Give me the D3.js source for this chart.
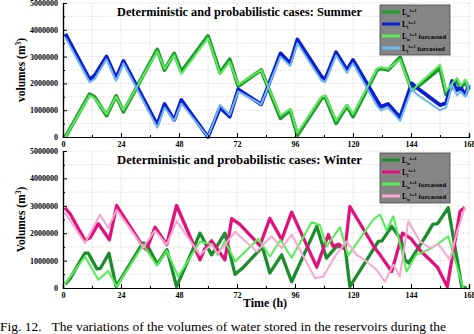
<!DOCTYPE html>
<html>
<head>
<meta charset="utf-8">
<script src="https://cdn.jsdelivr.net/npm/d3@7"></script>
<style>
  body { margin: 0; background: #fff; }
  svg { display: block; }
  text { font-family: "Liberation Serif", "Times New Roman", serif; }
</style>
</head>
<body>
<svg id="chart" width="474" height="334"></svg>
<script>

// Summer panel (values in million m3)
var sumHours = [1, 11, 13, 18, 22, 25, 39, 42, 46, 49, 60, 65, 69, 72.5, 82, 90, 94, 97, 107, 108.5, 113, 117.5, 120, 130, 131.5, 134.5, 139.5, 144.3, 146.3, 156, 158.5, 161, 163, 164.5, 166.5, 168];
var sumLu  = [0, 1.6, 1.5, 0.8, 1.53, 0.94, 3.27, 2.5, 3.12, 2.44, 3.77, 2.4, 2.9, 1.9, 2.5, 0.7, 1.0, 0.07, 1.44, 1.5, 0.51, 1.16, 0.76, 2.5, 2.56, 2.5, 2.97, 1.75, 1.85, 2.56, 1.6, 1.85, 2.13, 1.82, 2.06, 1.75];
var sumLl  = [3.85, 2.15, 2.28, 3.0, 2.19, 2.84, 0.45, 1.23, 0.63, 1.38, 0.0, 1.1, 0.76, 1.78, 1.22, 3.12, 2.75, 3.64, 2.25, 2.16, 3.16, 2.5, 2.87, 1.35, 1.13, 1.23, 0.73, 2.0, 1.85, 1.19, 1.26, 2.09, 1.75, 1.85, 1.57, 1.94];
var sumLuF = [0, 1.55, 1.45, 0.85, 1.5, 1.0, 3.2, 2.55, 3.05, 2.35, 3.7, 2.35, 2.8, 1.95, 2.5, 0.8, 1.05, 0.15, 1.5, 1.55, 0.6, 1.2, 0.85, 2.55, 2.6, 2.55, 2.9, 1.7, 1.9, 2.7, 1.7, 2.0, 2.2, 1.9, 2.15, 1.7];
var sumLlF = [3.7, 2.05, 2.15, 2.9, 2.1, 2.75, 0.35, 1.1, 0.6, 1.25, 0.0, 1.2, 0.82, 1.7, 1.22, 3.0, 2.65, 3.5, 2.1, 2.05, 3.05, 2.4, 2.75, 1.15, 1.0, 1.1, 0.6, 1.8, 1.6, 1.0, 1.1, 1.95, 1.55, 1.7, 1.5, 1.95];

// Winter panel
var winLuHours = [1, 3, 9, 10.5, 14, 15.5, 19, 22, 33, 34.5, 39, 43, 47, 56.7, 61.5, 67, 71.2, 74, 82.5, 85.6, 90.5, 94.6, 105, 109, 113, 116.7, 118.7, 127, 130.5, 132, 136, 140, 141.5, 143, 150.5, 153, 155, 159.4, 165, 167];
var winLu = [0.14, 0.35, 1.27, 1.27, 0.7, 0.72, 1.27, 0.05, 1.64, 1.62, 0.87, 1.4, 0.05, 2.0, 1.21, 2.0, 0.5, 0.7, 1.5, 0.55, 1.21, 0.23, 2.25, 1.09, 1.5, 1.52, 0.05, 1.21, 1.7, 1.72, 2.25, 1.76, 1.03, 0.91, 1.95, 2.32, 2.35, 2.93, 0.05, 0.0];
var winLlHours = [0.8, 3, 9.1, 11.2, 14.6, 19.2, 22.2, 33.2, 34.6, 38.1, 42.9, 47, 56.7, 58.5, 61.5, 67, 69.8, 73.2, 81.5, 85.6, 90.5, 94.6, 105, 109.8, 111.8, 114, 116.7, 118.7, 129, 131.2, 136, 140.5, 144, 148, 151.8, 155, 159, 164.3, 166.3];
var winLl = [2.93, 2.7, 1.74, 1.83, 2.35, 1.76, 3.01, 1.5, 1.4, 2.22, 1.58, 3.01, 1.03, 1.4, 1.72, 1.03, 2.53, 2.32, 1.55, 2.54, 1.76, 2.77, 0.76, 1.95, 1.52, 1.6, 1.42, 2.97, 1.46, 1.21, 0.6, 2.0, 1.8, 1.35, 1.03, 0.75, 0.05, 2.8, 2.94];
var winLuFHours = [0.8, 9.1, 14.6, 18.7, 22.2, 33.2, 38.8, 42.9, 47.7, 56.7, 61.5, 64, 67, 71.2, 80.8, 85.6, 90, 94.6, 102.9, 106.3, 109.1, 114.6, 118, 128.4, 131.2, 133.9, 136.7, 142.2, 146, 151.8, 155, 159.4, 165.6];
var winLuF = [0.14, 1.15, 0.3, 0.62, 0.05, 1.58, 0.82, 1.36, 0.42, 1.7, 1.6, 1.2, 1.72, 0.97, 1.8, 1.15, 1.75, 1.1, 2.4, 2.3, 1.52, 2.22, 1.18, 2.5, 2.68, 2.1, 2.62, 0.6, 1.2, 1.42, 1.6, 1.89, 0.0];
var winLlFHours = [0.8, 9.1, 15.3, 18.7, 22.2, 33.2, 38, 42.9, 47, 56.7, 61.5, 64, 71.2, 80.1, 86.3, 90.5, 94.6, 104.3, 107.7, 112.5, 117.3, 121.5, 125.6, 129.8, 133.2, 136.7, 139.4, 142.9, 147.7, 151.8, 155.3, 160.1, 162.9, 166.3];
var winLlF = [2.74, 1.64, 2.68, 2.19, 2.85, 1.48, 2.1, 1.58, 2.44, 1.21, 1.6, 1.25, 2.05, 1.33, 1.89, 1.46, 1.95, 0.36, 0.42, 1.15, 1.7, 1.21, 0.97, 0.66, 0.23, 0.85, 0.42, 2.44, 1.7, 1.46, 1.6, 1.03, 2.0, 2.94];

var xTicks = [0, 24, 48, 72, 96, 120, 144, 168];
var yTicks = [0, 1, 2, 3, 4, 5];

var svg = d3.select('#chart');
var x = d3.scaleLinear().domain([0, 168]).range([63, 469]);

function zip(hours, vals) {
  return hours.map(function(h, i) { return [h, vals[i]]; });
}

function drawPanel(opts) {
  var y = d3.scaleLinear().domain([0, 5]).range([opts.bottom, opts.top]);
  var g = svg.append('g');

  // dotted grid
  g.selectAll('.hgrid').data(d3.range(0.5, 5.01, 0.5)).enter().append('line')
    .attr('x1', x(0)).attr('x2', x(168))
    .attr('y1', function(d) { return y(d); }).attr('y2', function(d) { return y(d); })
    .attr('stroke', '#c8c8c8').attr('stroke-dasharray', '1,1.5').attr('stroke-width', 0.8);
  g.selectAll('.vgrid').data(d3.range(12, 169, 12)).enter().append('line')
    .attr('x1', function(d) { return x(d); }).attr('x2', function(d) { return x(d); })
    .attr('y1', y(0)).attr('y2', y(5))
    .attr('stroke', '#c8c8c8').attr('stroke-dasharray', '1,1.5').attr('stroke-width', 0.8);

  var line = d3.line()
    .x(function(d) { return x(d[0]); })
    .y(function(d) { return y(d[1]); });

  opts.series.forEach(function(s) {
    g.append('path')
      .attr('d', line(s.data))
      .attr('fill', 'none')
      .attr('stroke', s.color)
      .attr('stroke-width', s.width)
      .attr('stroke-linejoin', 'round');
  });

  // axes
  g.append('g').attr('transform', 'translate(0,' + y(0) + ')')
    .call(d3.axisBottom(x).tickValues(xTicks).tickSize(-4).tickPadding(4));
  g.append('g').attr('transform', 'translate(0,' + y(0) + ')')
    .call(d3.axisBottom(x).tickValues(d3.range(12, 168, 24)).tickSize(-2).tickFormat(''));
  g.append('g').attr('transform', 'translate(' + x(0) + ',0)')
    .call(d3.axisLeft(y).tickValues(yTicks).tickSize(-4).tickPadding(5)
      .tickFormat(function(d) { return d3.format('d')(d * 1000000); }));
  g.append('g').attr('transform', 'translate(' + x(0) + ',0)')
    .call(d3.axisLeft(y).tickValues(d3.range(0.5, 5, 1)).tickSize(-2).tickFormat(''));
  g.selectAll('.domain').attr('stroke', '#000').attr('stroke-width', 1.2);
  g.selectAll('.tick line').attr('stroke', '#000');
  g.selectAll('.tick text').attr('font-size', 8).attr('font-weight', 'bold')
    .attr('font-family', '"Liberation Serif", serif').attr('fill', '#000');

  // title
  g.append('text').attr('x', 117).attr('y', opts.top + 13)
    .attr('font-size', 13.5).attr('font-weight', 'bold')
    .attr('textLength', 245).attr('lengthAdjust', 'spacingAndGlyphs')
    .text(opts.title);

  // y label
  var yl = g.append('text')
    .attr('transform', 'translate(25,' + ((opts.top + opts.bottom) / 2) + ') rotate(-90)')
    .attr('text-anchor', 'middle').attr('font-size', 11.5).attr('font-weight', 'bold');
  yl.append('tspan').text(opts.ylabel + ' (m');
  yl.append('tspan').attr('font-size', 7.5).attr('dy', -4).text('3');
  yl.append('tspan').attr('dy', 4).text(')');

  // legend
  var lg = g.append('g').attr('transform', 'translate(380,' + (opts.top + 2) + ')');
  lg.append('rect').attr('width', 70).attr('height', 50)
    .attr('fill', '#858585').attr('stroke', '#444').attr('stroke-width', 0.8);
  opts.legend.forEach(function(l, i) {
    var ly = 7 + i * 12;
    lg.append('line').attr('x1', 2).attr('x2', 20).attr('y1', ly).attr('y2', ly)
      .attr('stroke', l.color).attr('stroke-width', 3);
    var t = lg.append('text').attr('x', 22).attr('y', ly + 3)
      .attr('font-size', 7.5).attr('font-weight', 'bold');
    t.append('tspan').text('L');
    t.append('tspan').attr('font-size', 5).attr('dy', 1.5).text(l.sub);
    t.append('tspan').attr('font-size', 5).attr('dy', -4.5).text('t+1');
    if (l.extra) t.append('tspan').attr('dy', 3).attr('font-size', 7).text(' ' + l.extra);
  });
}

drawPanel({
  top: 3, bottom: 137,
  title: 'Deterministic and probabilistic cases: Summer',
  ylabel: 'volumes',
  series: [
    {data: zip(sumHours, sumLu), color: '#1c9a2a', width: 3.8},
    {data: zip(sumHours, sumLl), color: '#0a1ed4', width: 3.8},
    {data: zip(sumHours, sumLuF), color: '#5ee85e', width: 2},
    {data: zip(sumHours, sumLlF), color: '#6fb8ee', width: 2}
  ],
  legend: [
    {color: '#1c9a2a', sub: 'u'},
    {color: '#0a1ed4', sub: 'l'},
    {color: '#5ee85e', sub: 'u', extra: 'forcasted'},
    {color: '#6fb8ee', sub: 'l', extra: 'forcasted'}
  ]
});

drawPanel({
  top: 151, bottom: 288,
  title: 'Deterministic and probabilistic cases: Winter',
  ylabel: 'Volumes',
  series: [
    {data: zip(winLuHours, winLu), color: '#1c8c2c', width: 3.3},
    {data: zip(winLlHours, winLl), color: '#e2127c', width: 3.3},
    {data: zip(winLuFHours, winLuF), color: '#55ee55', width: 2},
    {data: zip(winLlFHours, winLlF), color: '#f5a8d0', width: 2}
  ],
  legend: [
    {color: '#1c8c2c', sub: 'u'},
    {color: '#e2127c', sub: 'l'},
    {color: '#55ee55', sub: 'u', extra: 'forcasted'},
    {color: '#f5a8d0', sub: 'u', extra: 'forcasted'}
  ]
});

// x label and caption
svg.append('text').attr('x', 265).attr('y', 307).attr('text-anchor', 'middle')
  .attr('font-size', 12).attr('font-weight', 'bold').text('Time (h)');
svg.append('text').attr('x', 0).attr('y', 331).attr('font-size', 13.5)
  .attr('xml:space', 'preserve')
  .text('Fig. 12.   The variations of the volumes of water stored in the reservoirs during the');

</script>
</body>
</html>
